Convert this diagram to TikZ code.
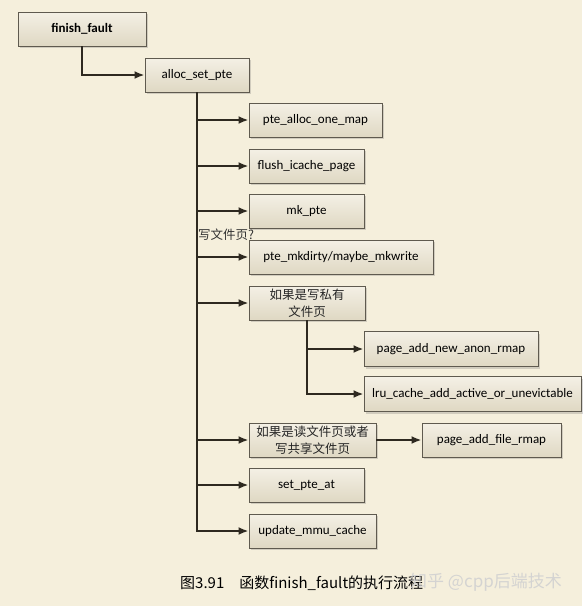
\documentclass[tikz,border=0pt]{standalone}
\usepackage{fontspec}
\setmainfont{Carlito}
\newfontfamily\cjk{Noto Sans CJK SC}
\usetikzlibrary{arrows.meta,shadows}
\definecolor{bgc}{HTML}{F5EFDC}
\definecolor{boxtop}{HTML}{F4F0E5}
\definecolor{boxbot}{HTML}{DFD8C3}
\definecolor{boxline}{HTML}{5F5A4F}
\definecolor{linec}{HTML}{2E2920}
\tikzset{
  fbox/.style={draw=boxline, line width=0.9pt, top color=boxtop, bottom color=boxbot,
    inner sep=0pt, font=\fontsize{13}{15}\selectfont, text=black,
    drop shadow={shadow xshift=2pt, shadow yshift=-2pt, opacity=0.25, fill=black!60}},
  cbox/.style={fbox, font=\cjk\fontsize{12.5}{17}\selectfont, align=center, text=black!85},
  conn/.style={draw=linec, line width=2pt, -{Latex[length=10pt,width=8pt]}},
}
\begin{document}
\begin{tikzpicture}[x=1pt,y=-1pt]
\fill[bgc] (0,0) rectangle (582,606);
\useasboundingbox (0,0) rectangle (582,606);

\node[fbox, minimum width=128, minimum height=34, font=\fontsize{13}{15}\selectfont\bfseries] (ff) at (82,29) {finish\_fault};
\node[fbox, minimum width=104, minimum height=34] (asp) at (197,75) {alloc\_set\_pte};
\node[fbox, minimum width=133, minimum height=34] (paom) at (315.5,120) {pte\_alloc\_one\_map};
\node[fbox, minimum width=115, minimum height=34] (fip) at (306.5,166) {flush\_icache\_page};
\node[fbox, minimum width=115, minimum height=34] (mkp) at (306.5,211) {mk\_pte};
\node[fbox, minimum width=184, minimum height=34] (mkd) at (341,257) {pte\_mkdirty/maybe\_mkwrite};
\node[cbox, minimum width=116, minimum height=34] (priv) at (307,303) {如果是写私有\\文件页};
\node[fbox, minimum width=174, minimum height=35] (anon) at (451,349) {page\_add\_new\_anon\_rmap};
\node[fbox, minimum width=217, minimum height=35] (lru) at (472.5,394) {lru\_cache\_add\_active\_or\_unevictable};
\node[cbox, minimum width=127, minimum height=34] (rd) at (312.5,440) {如果是读文件页或者\\写共享文件页};
\node[fbox, minimum width=139, minimum height=34] (pafr) at (491.5,440) {page\_add\_file\_rmap};
\node[fbox, minimum width=115, minimum height=34] (spa) at (306.5,485) {set\_pte\_at};
\node[fbox, minimum width=127, minimum height=34] (umc) at (312.5,531) {update\_mmu\_cache};

\node[anchor=west, inner sep=0pt, font=\cjk\fontsize{12.5}{15}\selectfont, text=black!80] (lbl) at (198,235) {写文件页?};

\draw[conn] (ff.south) |- (asp.west);
\foreach \t in {paom,fip,mkp,mkd,priv,rd,spa,umc}
  \draw[conn] (asp.south) |- (\t.west);
\draw[conn] (priv.south) |- (anon.west);
\draw[conn] (priv.south) |- (lru.west);
\draw[conn] (rd.east) -- (pafr.west);

\node[anchor=west, inner sep=0pt, font=\cjk\fontsize{15}{17}\selectfont] (cap) at (180,583) {图3.91\hspace{15pt}函数finish\_fault的执行流程};
\node[anchor=west, inner sep=0pt, font=\cjk\fontsize{17}{19}\selectfont, text=black!18, opacity=0.9] (wm) at (410,582) {知乎 @cpp后端技术};
\end{tikzpicture}
\end{document}
